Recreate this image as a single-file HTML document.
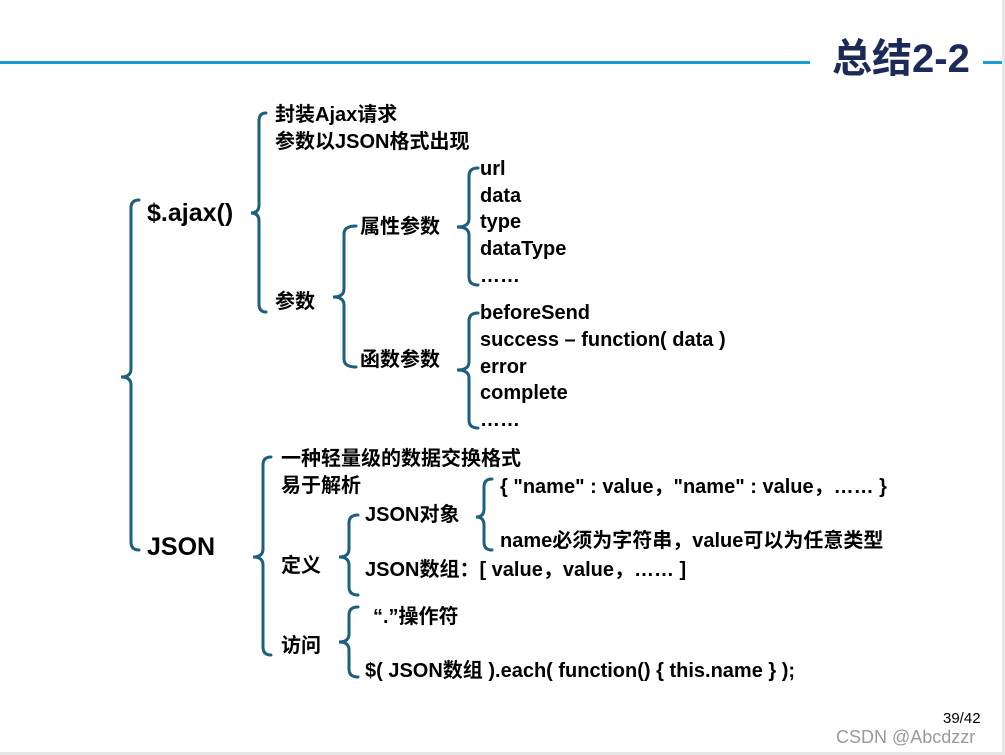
<!DOCTYPE html>
<html><head><meta charset="utf-8"><style>
body{margin:0;width:1005px;height:755px;background:#fff;position:relative;overflow:hidden;font-family:"Liberation Sans","Noto Sans CJK SC",sans-serif;}
.t{position:absolute;font-weight:bold;font-size:20px;line-height:24px;color:#000;white-space:pre;}
.b{font-size:25px;line-height:30px;}
</style></head><body>
<div style="position:absolute;left:0;top:61px;width:810px;height:3px;background:#1a9ad6"></div>
<div style="position:absolute;left:983px;top:61px;width:22px;height:3px;background:#1a9ad6"></div>
<div style="position:absolute;left:832px;top:35px;font-size:40px;line-height:48px;font-weight:bold;color:#1c2a5a;font-family:'Liberation Sans','Noto Sans CJK SC',sans-serif">总结2-2</div>
<div style="position:absolute;left:1002px;top:0;width:3px;height:755px;background:#e6e6e6"></div>
<div style="position:absolute;left:0;top:752px;width:1005px;height:3px;background:#e6e6e6"></div>
<svg style="position:absolute;left:0;top:0" width="1005" height="755">
<g fill="none" stroke="#1d5f7e" stroke-width="3" stroke-linecap="round">
<path d="M139,200 Q131,200 131,208 L131,369 Q131,377 121,377 Q131,377 131,385 L131,542 Q131,550 139,550"/>
<path d="M266,113 Q259,113 259,121 L259,205 Q259,213 251,213 Q259,213 259,221 L259,304 Q259,312 266,312"/>
<path d="M356,226 Q344,226 344,234 L344,289 Q344,297 333,297 Q344,297 344,305 L344,359 Q344,367 356,367"/>
<path d="M478,168 Q469,168 469,176 L469,219 Q469,227 457,227 Q469,227 469,235 L469,277 Q469,285 478,285"/>
<path d="M478,313 Q469,313 469,321 L469,362 Q469,370 457,370 Q469,370 469,378 L469,420 Q469,428 478,428"/>
<path d="M271,457 Q263,457 263,465 L263,549 Q263,557 253,557 Q263,557 263,565 L263,647 Q263,655 271,655"/>
<path d="M358,515 Q349,515 349,523 L349,549 Q349,557 339,557 Q349,557 349,565 L349,587 Q349,595 358,595"/>
<path d="M358,607 Q349,607 349,615 L349,634 Q349,642 339,642 Q349,642 349,650 L349,669 Q349,677 358,677"/>
<path d="M492,479 Q484,479 484,487 L484,509 Q484,517 476,517 Q484,517 484,525 L484,542 Q484,550 492,550"/>
</g></svg>
<div class="t b" style="left:147px;top:198px">$.ajax()</div>
<div class="t b" style="left:147px;top:532px">JSON</div>
<div class="t" style="left:275px;top:103px">封装Ajax请求</div>
<div class="t" style="left:275px;top:130px">参数以JSON格式出现</div>
<div class="t" style="left:275px;top:290px">参数</div>
<div class="t" style="left:360px;top:215px">属性参数</div>
<div class="t" style="left:360px;top:348px">函数参数</div>
<div class="t" style="left:480px;top:157px">url</div>
<div class="t" style="left:480px;top:184px">data</div>
<div class="t" style="left:480px;top:210px">type</div>
<div class="t" style="left:480px;top:237px">dataType</div>
<div class="t" style="left:480px;top:264px">……</div>
<div class="t" style="left:480px;top:301px">beforeSend</div>
<div class="t" style="left:480px;top:328px">success – function( data )</div>
<div class="t" style="left:480px;top:355px">error</div>
<div class="t" style="left:480px;top:381px">complete</div>
<div class="t" style="left:480px;top:408px">……</div>
<div class="t" style="left:281px;top:447px">一种轻量级的数据交换格式</div>
<div class="t" style="left:281px;top:474px">易于解析</div>
<div class="t" style="left:365px;top:503px">JSON对象</div>
<div class="t" style="left:281px;top:554px">定义</div>
<div class="t" style="left:500px;top:475px">{ "name" : value，"name" : value，…… }</div>
<div class="t" style="left:500px;top:529px">name必须为字符串，value可以为任意类型</div>
<div class="t" style="left:365px;top:558px">JSON数组：[ value，value，…… ]</div>
<div class="t" style="left:373px;top:605px">“.”操作符</div>
<div class="t" style="left:281px;top:634px">访问</div>
<div class="t" style="left:365px;top:659px">$( JSON数组 ).each( function() { this.name } );</div>
<div style="position:absolute;left:943px;top:710px;font-size:15px;color:#000">39/42</div>
<div style="position:absolute;left:836px;top:727px;font-size:18px;color:#999">CSDN @Abcdzzr</div>
</body></html>
